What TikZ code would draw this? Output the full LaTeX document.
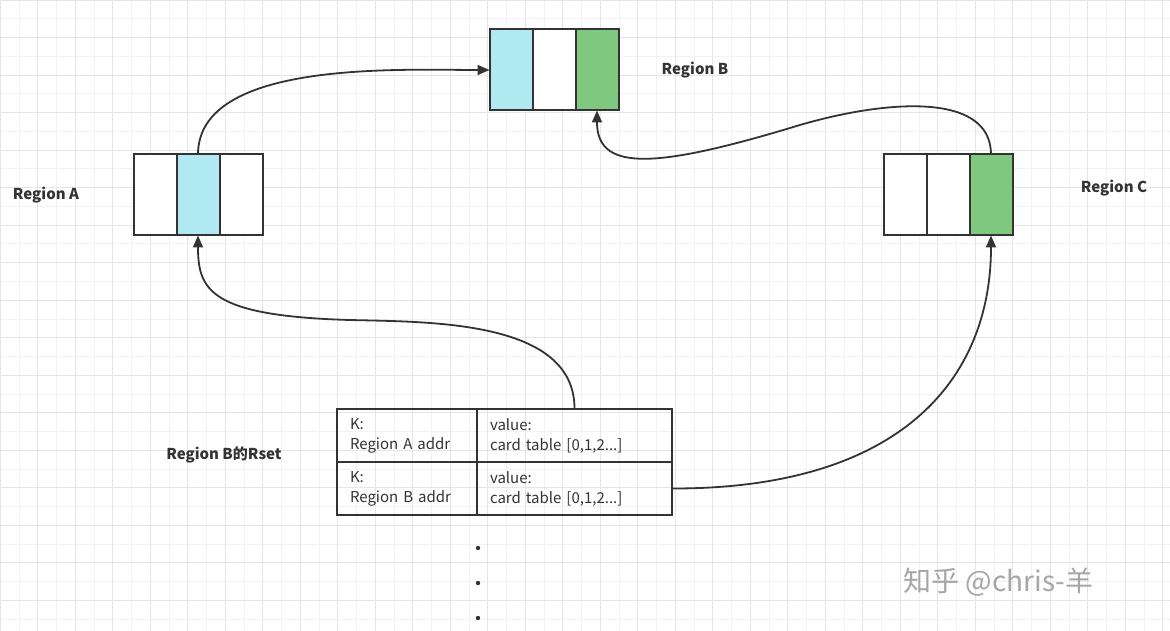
\documentclass[tikz,border=0pt]{standalone}
\usepackage{fontspec}
\setmainfont{Noto Sans CJK SC}
\usetikzlibrary{arrows.meta}
\definecolor{cy}{HTML}{B1E9F2}
\definecolor{gr}{HTML}{7EC87F}
\definecolor{ln}{HTML}{333333}
\begin{document}
\begin{tikzpicture}[x=1pt,y=-1pt,
 cell/.style={draw=ln,line width=2pt,minimum width=43pt,minimum height=81pt,inner sep=0pt,outer sep=0pt},
 lab/.style={font=\bfseries\fontsize{15}{18}\selectfont,text=ln},
 tc/.style={draw=ln,line width=2pt,minimum height=53pt,inner sep=0pt,outer sep=0pt,align=left,anchor=north west,font=\fontsize{15}{20}\selectfont,text=ln},
 con/.style={draw=ln,line width=1.8pt,-{Triangle[length=12pt,width=10pt]}}]
\useasboundingbox (0,0) rectangle (1170,631);
\fill[white] (0,0) rectangle (1170,631);
\foreach \i in {0,...,62} {\draw[gray!10,line width=0.5pt] (\i*18.75,0) -- (\i*18.75,631);}
\foreach \i in {0,...,33} {\draw[gray!10,line width=0.5pt] (0,\i*18.75) -- (1170,\i*18.75);}
\foreach \i in {0,...,31} {\draw[gray!20,line width=0.8pt] (\i*37.5,0) -- (\i*37.5,631);}
\foreach \i in {0,...,16} {\draw[gray!20,line width=0.8pt] (0,\i*37.5) -- (1170,\i*37.5);}
% Region B
\node[cell,fill=cy] (b1) at (511,70) {};
\node[cell,fill=white] (b2) at (554,70) {};
\node[cell,fill=gr] (b3) at (597,70) {};
% Region A
\node[cell,fill=white] (a1) at (155,195) {};
\node[cell,fill=cy] (a2) at (198,195) {};
\node[cell,fill=white] (a3) at (241,195) {};
% Region C
\node[cell,fill=white] (c1) at (905,195) {};
\node[cell,fill=white] (c2) at (948,195) {};
\node[cell,fill=gr] (c3) at (991,195) {};
% labels
\node[lab] (lb) at (695,70) {Region B};
\node[lab] (la) at (46,195) {Region A};
\node[lab] (lc) at (1114,188) {Region C};
\node[lab] (lr) at (224,455) {Region B的Rset};
% table
\node[tc,minimum width=140pt,text width=114pt,inner xsep=13pt] (k1) at (337,409) {K:\\Region A addr};
\node[tc,minimum width=195pt,text width=169pt,inner xsep=13pt] (v1) at (477,409) {value:\\card table [0,1,2...]};
\node[tc,minimum width=140pt,text width=114pt,inner xsep=13pt] (k2) at (337,462) {K:\\Region B addr};
\node[tc,minimum width=195pt,text width=169pt,inner xsep=13pt] (v2) at (477,462) {value:\\card table [0,1,2...]};
\foreach \y/\n in {548/d1,583/d2,618/d3} \fill[ln] (478,\y) circle (2.2pt) coordinate (\n);
% connectors
\draw[con] (a2.north) .. controls (198,60) and (400,70) .. (b1.west);
\coordinate (m1) at (790,128);
\draw[con] (c3.north) .. controls (991,90) and (880,100) .. (m1) .. controls (650,170) and (597,170) .. (b3.south);
\coordinate (m2) at (350,320);
\draw[con] (v1.north) .. controls (575,320) and (430,322) .. (m2) .. controls (210,316) and (198,290) .. (a2.south);
\draw[con] (v2.east) .. controls (900,489) and (991,380) .. (c3.south);
\node[font=\fontsize{28}{30}\selectfont,text=gray!70,anchor=west] (wm) at (900,582) {知乎 @chris-羊};
\end{tikzpicture}
\end{document}
